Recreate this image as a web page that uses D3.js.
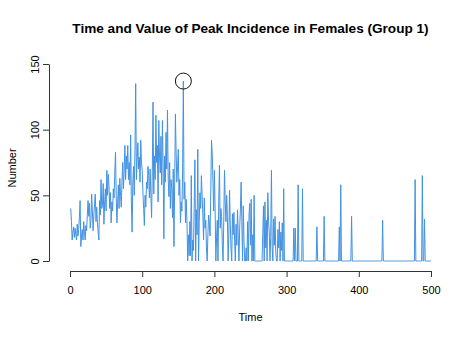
<!DOCTYPE html>
<html>
<head>
<meta charset="utf-8">
<script src="https://cdn.jsdelivr.net/npm/d3@7"></script>
<style>
  html, body { margin: 0; padding: 0; background: #fff; }
  svg { display: block; font-family: "Liberation Sans", Arial, Helvetica, sans-serif; }
</style>
</head>
<body>
<svg id="chart" width="474" height="338"></svg>
<script>
const title = "Time and Value of Peak Incidence in Females (Group 1)";
const xLabel = "Time";
const yLabel = "Number";
const xTicks = [0, 100, 200, 300, 400, 500];
const yTicks = [0, 50, 100, 150];

// Number of cases at each time step t = 1..500
const values = [
  40, 30, 16, 22, 26, 18, 25, 20, 16, 28,
  19, 24, 33, 46, 11, 20, 24, 16, 30, 22,
  16, 27, 23, 35, 46, 34, 44, 25, 31, 51,
  38, 23, 35, 44, 51, 30, 41, 29, 22, 16,
  46, 35, 62, 40, 43, 59, 28, 45, 55, 38,
  69, 50, 66, 57, 40, 52, 29, 45, 38, 55,
  48, 66, 83, 50, 29, 45, 58, 40, 63, 50,
  41, 60, 75, 55, 68, 88, 62, 80, 70, 88,
  62, 75, 58, 96, 45, 22, 60, 72, 50, 85,
  135, 62, 77, 90, 70, 79, 60, 92, 75, 69,
  52, 40, 27, 50, 41, 60, 55, 72, 65, 48,
  70, 51, 33, 68, 121, 51, 80, 62, 111, 75,
  88, 45, 107, 80, 67, 95, 58, 107, 72, 17,
  80, 60, 98, 70, 115, 62, 49, 75, 40, 62,
  55, 33, 70, 11, 60, 112, 82, 60, 72, 85,
  50, 62, 29, 45, 38, 70, 137, 47, 60, 29,
  47, 30, 0, 20, 4, 30, 4, 65, 0, 16,
  8, 40, 77, 0, 39, 20, 85, 0, 30, 52,
  40, 65, 50, 35, 16, 48, 25, 31, 10, 0,
  20, 35, 28, 19, 55, 92, 82, 60, 38, 69,
  40, 0, 18, 31, 0, 45, 73, 25, 40, 34,
  12, 0, 32, 69, 45, 30, 50, 33, 0, 20,
  54, 28, 10, 0, 36, 20, 37, 15, 0, 28,
  12, 39, 20, 0, 25, 39, 60, 30, 0, 42,
  15, 0, 0, 10, 0, 30, 0, 36, 44, 12,
  47, 0, 20, 0, 50, 0, 0, 0, 0, 0,
  0, 0, 0, 0, 0, 0, 21, 42, 0, 45,
  10, 31, 0, 52, 30, 22, 0, 18, 69, 10,
  0, 32, 12, 34, 7, 0, 0, 24, 10, 30,
  0, 22, 8, 29, 0, 55, 0, 0, 0, 0,
  0, 0, 0, 0, 0, 0, 0, 0, 0, 25,
  0, 25, 0, 0, 0, 58, 0, 0, 0, 0,
  0, 55, 0, 0, 0, 0, 0, 0, 0, 0,
  0, 0, 0, 0, 0, 0, 0, 0, 0, 0,
  0, 26, 0, 0, 0, 0, 0, 0, 0, 0,
  0, 34, 0, 0, 0, 0, 0, 0, 0, 0,
  0, 0, 0, 0, 0, 0, 0, 0, 0, 0,
  0, 0, 26, 0, 58, 0, 0, 0, 0, 0,
  0, 0, 0, 0, 0, 0, 0, 0, 0, 34,
  0, 0, 0, 0, 0, 0, 0, 0, 0, 0,
  0, 0, 0, 0, 0, 0, 0, 0, 0, 0,
  0, 0, 0, 0, 0, 0, 0, 0, 0, 0,
  0, 0, 0, 0, 0, 0, 0, 0, 0, 0,
  0, 0, 31, 0, 0, 0, 0, 0, 0, 0,
  0, 0, 0, 0, 0, 0, 0, 0, 0, 0,
  0, 0, 0, 0, 0, 0, 0, 0, 0, 0,
  0, 0, 0, 0, 0, 0, 0, 0, 0, 0,
  0, 0, 0, 0, 0, 0, 0, 62, 0, 0,
  0, 0, 0, 0, 0, 0, 0, 65, 0, 0,
  32, 0, 0, 0, 0, 0, 0, 0, 0, 0
];
const times = values.map((v, i) => i + 1);

const svg = d3.select("#chart");
const x = d3.scaleLinear().domain([0, 500]).range([70, 431]);
const y = d3.scaleLinear().domain([0, 150]).range([261, 64]);

const axisColor = "#333";

// line
const data = times.map((t, i) => ({ t, v: values[i] }));
svg.append("path")
  .datum(data)
  .attr("fill", "none")
  .attr("stroke", "#4292e3")
  .attr("stroke-width", 1)
  .attr("stroke-linejoin", "round")
  .attr("d", d3.line().x(d => x(d.t)).y(d => y(d.v)));

// peak circle
const iMax = d3.maxIndex(values);
svg.append("circle")
  .attr("cx", x(times[iMax]))
  .attr("cy", y(values[iMax]))
  .attr("r", 8)
  .attr("fill", "none")
  .attr("stroke", "#111")
  .attr("stroke-width", 1);

// x axis
const gx = svg.append("g")
  .attr("transform", "translate(0,271)")
  .call(d3.axisBottom(x).tickValues(xTicks).tickSize(6).tickSizeOuter(0).tickPadding(6));
gx.select(".domain").attr("stroke", axisColor);
gx.selectAll(".tick line").attr("stroke", axisColor);
gx.selectAll(".tick text")
  .attr("fill", "#000")
  .style("font-size", "11px")
  .attr("y", 0).attr("dy", "0")
  .attr("transform", "translate(0,22.5)");

// y axis
const gy = svg.append("g")
  .attr("transform", "translate(49,0)")
  .call(d3.axisLeft(y).tickValues(yTicks).tickSize(6).tickSizeOuter(0));
gy.select(".domain").attr("stroke", axisColor);
gy.selectAll(".tick line").attr("stroke", axisColor);
gy.selectAll(".tick text")
  .attr("fill", "#000")
  .style("font-size", "11px")
  .attr("x", 0).attr("y", 0).attr("dy", "0.35em")
  .attr("text-anchor", "middle")
  .attr("transform", "translate(-14,0) rotate(-90)");

// title
svg.append("text")
  .attr("x", 250.5).attr("y", 33)
  .attr("text-anchor", "middle")
  .style("font-size", "13.6px")
  .style("font-weight", "bold")
  .text(title);

// axis labels
svg.append("text")
  .attr("x", 250.5).attr("y", 321)
  .attr("text-anchor", "middle")
  .style("font-size", "11px")
  .text(xLabel);

svg.append("text")
  .attr("transform", "translate(12,168) rotate(-90)")
  .attr("text-anchor", "middle")
  .attr("dy", "0.35em")
  .style("font-size", "11px")
  .text(yLabel);
</script>
</body>
</html>
